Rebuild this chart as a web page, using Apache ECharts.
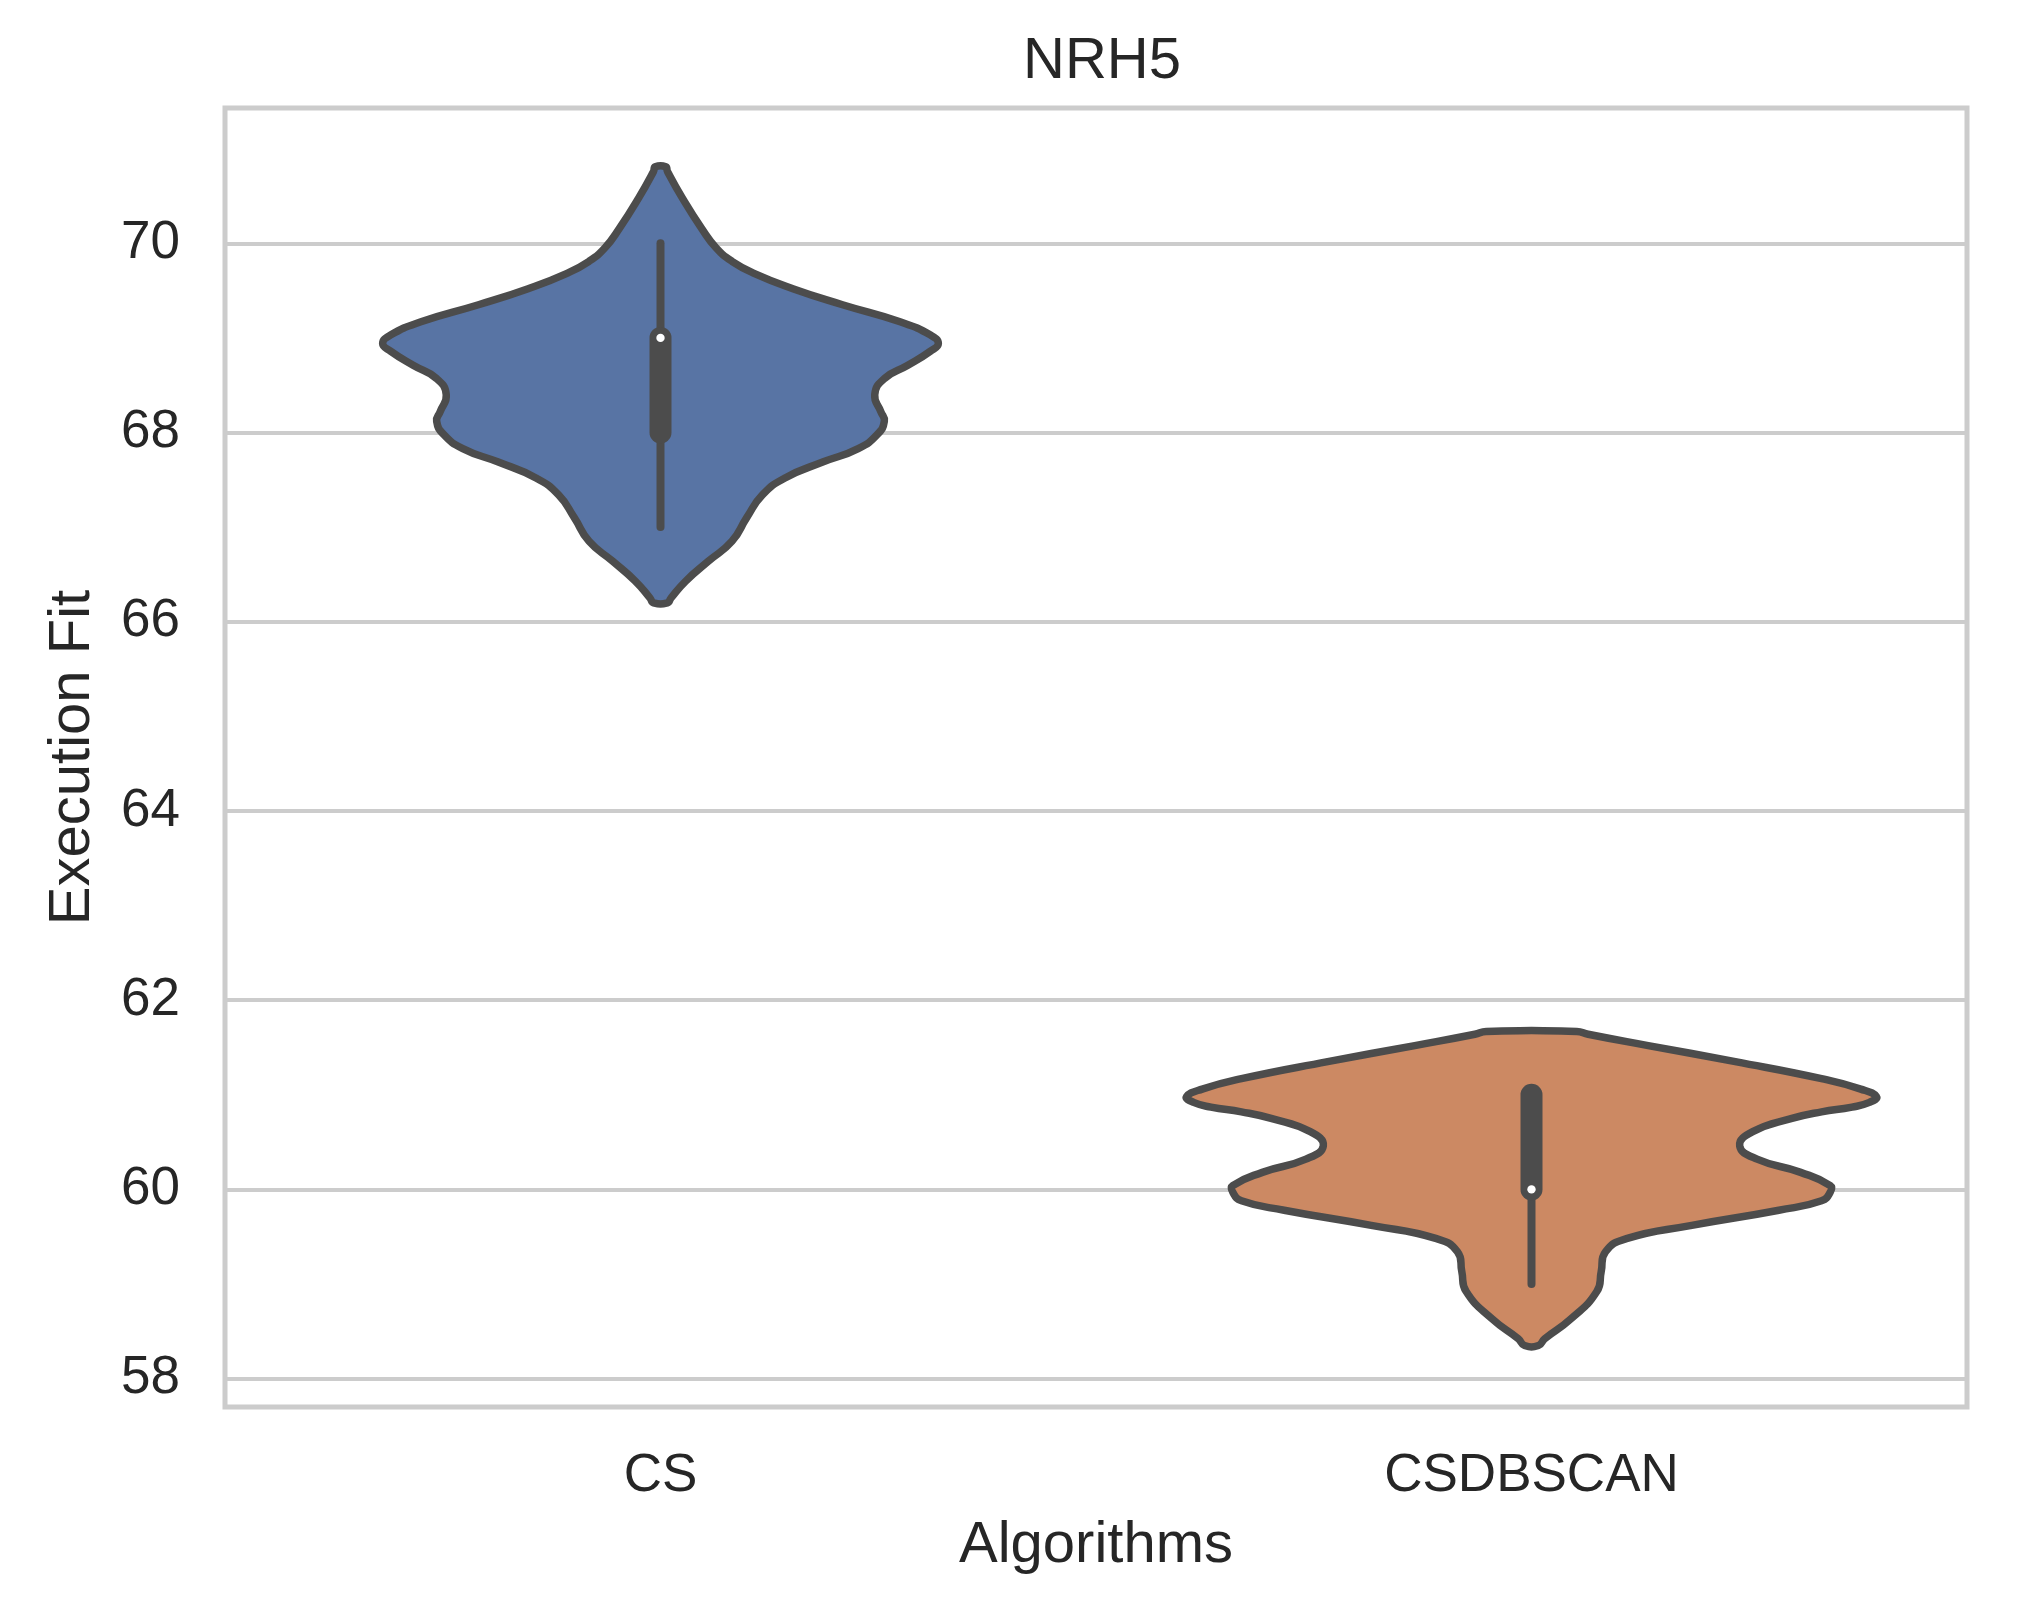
<!DOCTYPE html>
<html>
<head>
<meta charset="utf-8">
<script src="https://cdn.jsdelivr.net/npm/echarts@6/dist/echarts.min.js"></script>
<style>
  html, body { margin: 0; padding: 0; background: #ffffff; }
  #chart { width: 2041px; height: 1612px; }
</style>
</head>
<body>
<div id="chart"></div>
<script>
// ---- data ----
const categories = ['CS', 'CSDBSCAN'];

// kernel-density outline: y value and half-width (fraction of category band)
const csDensityY = [70.81, 70.76, 70.48, 70.16, 69.95, 69.81, 69.68, 69.52, 69.35, 69.17, 69.03, 68.94, 68.86, 68.71, 68.57, 68.40, 68.22, 68.12, 67.98, 67.83, 67.69, 67.52, 67.34, 67.10, 66.85, 66.64, 66.43, 66.25, 66.20];
const csDensityW = [0.006, 0.008, 0.025, 0.047, 0.064, 0.082, 0.108, 0.152, 0.209, 0.275, 0.310, 0.319, 0.310, 0.284, 0.257, 0.246, 0.253, 0.257, 0.249, 0.227, 0.187, 0.143, 0.117, 0.099, 0.082, 0.055, 0.029, 0.012, 0.008];

const dbDensityY = [61.67, 61.64, 61.52, 61.35, 61.17, 61.06, 60.98, 60.92, 60.87, 60.82, 60.75, 60.61, 60.46, 60.32, 60.18, 60.04, 59.97, 59.88, 59.78, 59.62, 59.48, 59.34, 59.13, 58.92, 58.63, 58.42, 58.35];
const dbDensityW = [0.052, 0.065, 0.134, 0.234, 0.333, 0.378, 0.396, 0.388, 0.368, 0.333, 0.299, 0.254, 0.239, 0.259, 0.309, 0.343, 0.343, 0.333, 0.284, 0.184, 0.109, 0.085, 0.080, 0.075, 0.045, 0.015, 0.008];

// inner box: [whisker low, q1, median, q3, whisker high]
const csBox = [67, 68, 69, 69, 70];
const dbBox = [59, 60, 60, 61, 61];

const fillColors = ['#5874a4', '#cc8963'];

// ---- chart ----
const violins = [
  { y: csDensityY, w: csDensityW, box: csBox },
  { y: dbDensityY, w: dbDensityW, box: dbBox }
];

const font = "'Liberation Sans', Arial, sans-serif";
const textColor = '#262626';
const edgeColor = '#4c4c4c';

function renderItem(params, api) {
  const idx = params.dataIndex;
  const v = violins[idx];
  const band = api.size([1, 0])[0];
  const cx = api.coord([idx, v.y[0]])[0];
  const right = v.y.map((y, i) => [cx + v.w[i] * band, api.coord([idx, y])[1]]);
  const left = v.y.map((y, i) => [cx - v.w[i] * band, api.coord([idx, y])[1]]).reverse();
  const pts = right.concat(left);
  const b = v.box;
  const yLow = api.coord([idx, b[0]])[1];
  const yQ1 = api.coord([idx, b[1]])[1];
  const yMed = api.coord([idx, b[2]])[1];
  const yQ3 = api.coord([idx, b[3]])[1];
  const yHigh = api.coord([idx, b[4]])[1];
  return {
    type: 'group',
    children: [
      {
        type: 'polygon',
        shape: { points: pts, smooth: 0.5 },
        style: { fill: fillColors[idx], stroke: edgeColor, lineWidth: 7.5, lineJoin: 'round' }
      },
      {
        type: 'line',
        shape: { x1: cx, y1: yLow, x2: cx, y2: yHigh },
        style: { stroke: edgeColor, lineWidth: 8, lineCap: 'round' }
      },
      {
        type: 'line',
        shape: { x1: cx, y1: yQ1, x2: cx, y2: yQ3 },
        style: { stroke: edgeColor, lineWidth: 22, lineCap: 'round' }
      },
      {
        type: 'circle',
        shape: { cx: cx, cy: yMed, r: 4.2 },
        style: { fill: '#ffffff', stroke: null }
      }
    ]
  };
}

const chart = echarts.init(document.getElementById('chart'), null, { renderer: 'canvas' });
chart.setOption({
  backgroundColor: '#ffffff',
  animation: false,
  title: {
    text: 'NRH5',
    left: 1097,
    top: 28,
    textAlign: 'center',
    textStyle: { fontFamily: font, fontSize: 58, fontWeight: 'normal', color: textColor }
  },
  grid: {
    left: 225, right: 74, top: 108, bottom: 205,
    show: true, borderColor: '#cccccc', borderWidth: 5, backgroundColor: '#ffffff'
  },
  xAxis: {
    type: 'category',
    data: categories,
    axisLine: { show: false },
    axisTick: { show: false },
    splitLine: { show: false },
    axisLabel: { fontFamily: font, fontSize: 53, color: textColor, margin: 43 },
    name: 'Algorithms',
    nameLocation: 'middle',
    nameGap: 110,
    nameTextStyle: { fontFamily: font, fontSize: 58, color: textColor }
  },
  yAxis: {
    type: 'value',
    min: 57.7,
    max: 71.43,
    splitNumber: 7,
    axisLine: { show: false },
    axisTick: { show: false },
    axisLabel: { fontFamily: font, fontSize: 53, color: textColor, margin: 45, showMinLabel: false, showMaxLabel: false },
    splitLine: { show: true, lineStyle: { color: '#cccccc', width: 4 } },
    name: 'Execution Fit',
    nameLocation: 'middle',
    nameGap: 123,
    nameRotate: 90,
    nameTextStyle: { fontFamily: font, fontSize: 58, color: textColor }
  },
  series: [{
    type: 'custom',
    renderItem: renderItem,
    data: categories.map((c, i) => [i, violins[i].box[2]]),
    encode: { x: 0, y: 1 },
    clip: false,
    z: 3
  }]
});
</script>
</body>
</html>
